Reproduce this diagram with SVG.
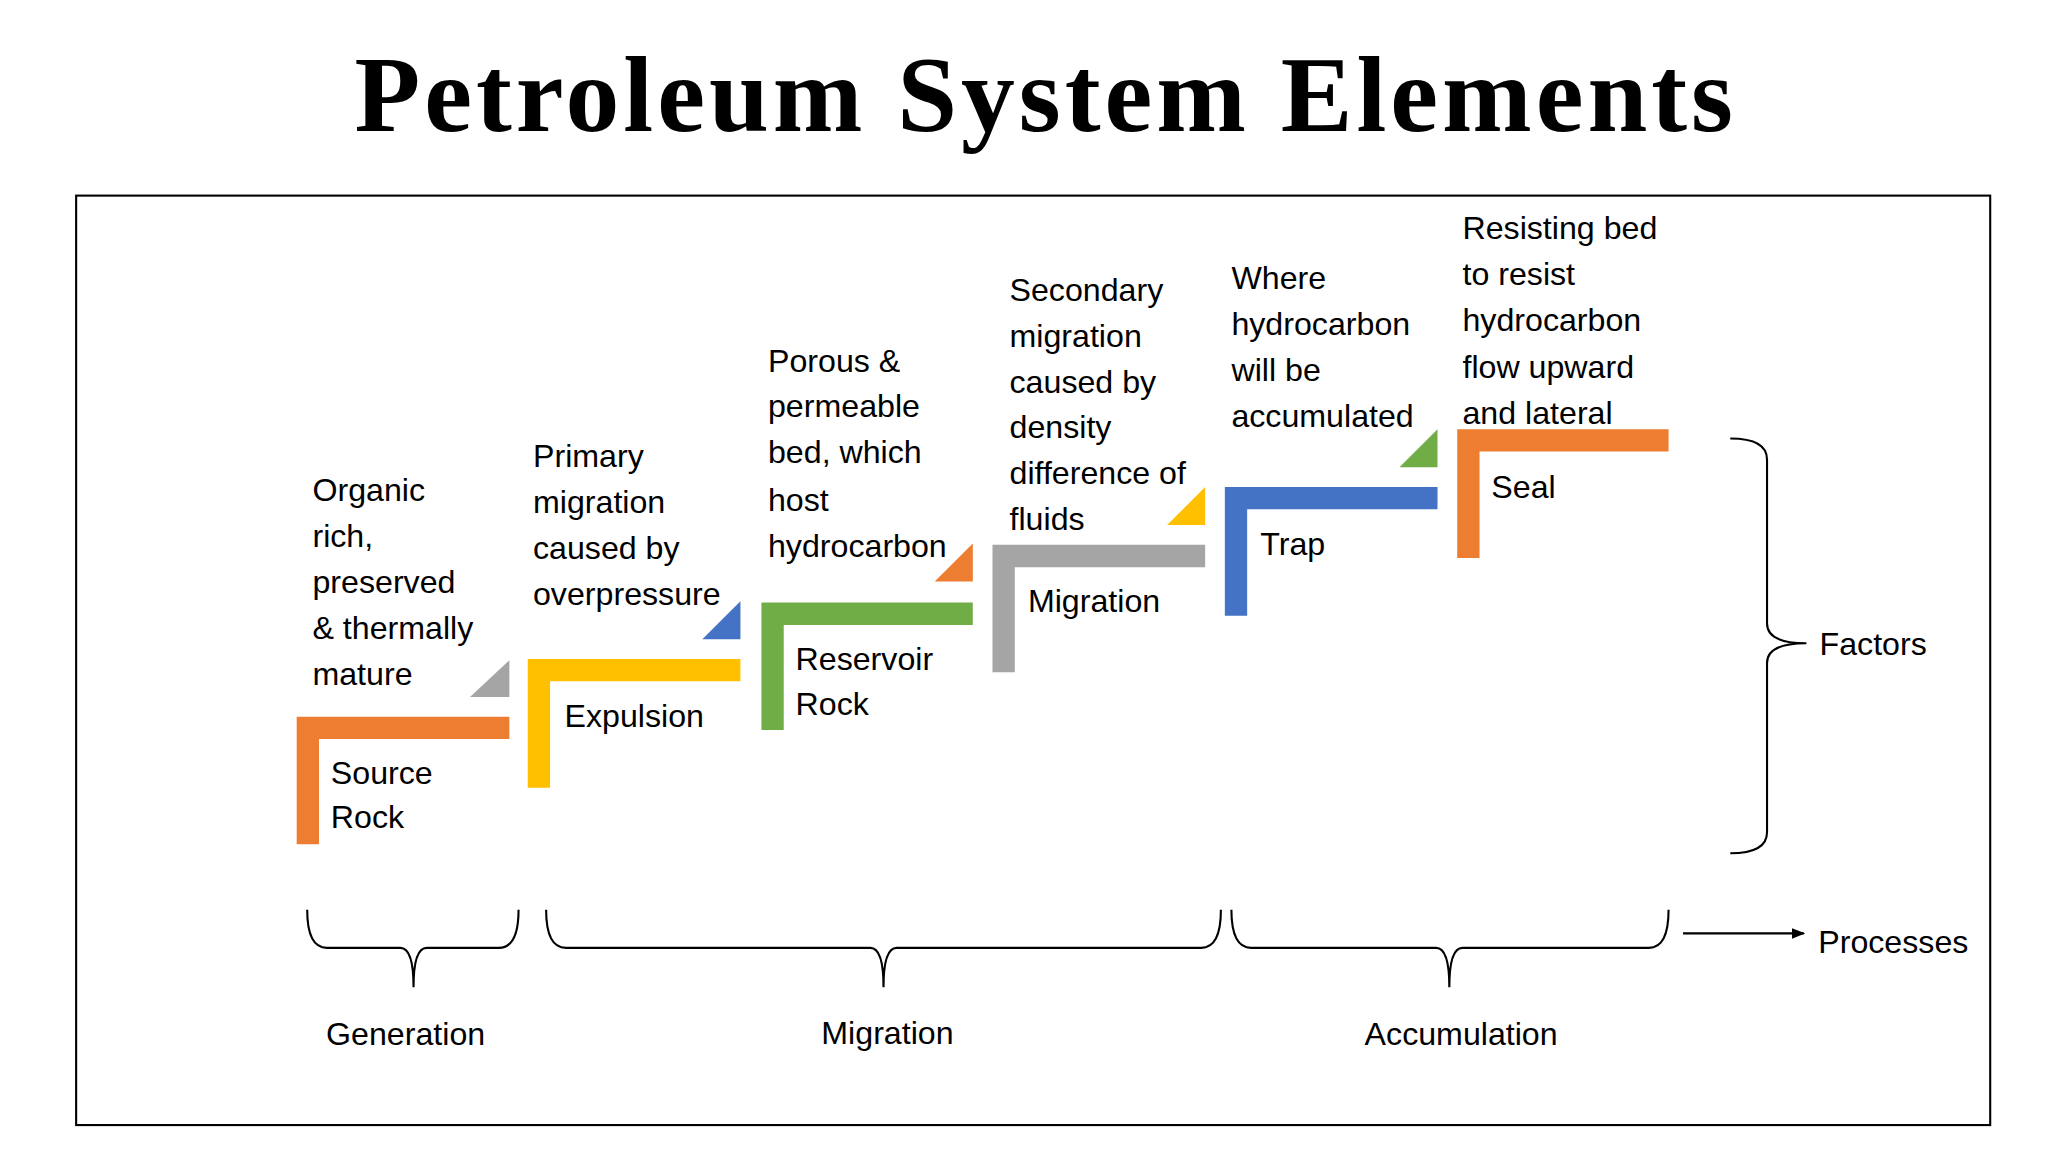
<svg xmlns="http://www.w3.org/2000/svg" width="2048" height="1152" viewBox="0 0 2048 1152">
<style>
.t{font-family:"Liberation Sans",Arial,sans-serif;font-size:24.5px;fill:#000}
.b{fill:none;stroke:#000;stroke-width:1.6}
</style>
<defs><marker id="ah" markerWidth="10" markerHeight="8" refX="9" refY="4" orient="auto" markerUnits="userSpaceOnUse"><path d="M0,0 L10,4 L0,8 Z" fill="#000"/></marker></defs>
<rect width="2048" height="1152" fill="#fff"/>
<g transform="scale(1.3128)">
<text x="795" y="100" text-anchor="middle" font-family="Liberation Serif,serif" font-weight="bold" font-size="82" textLength="1050">Petroleum System Elements</text>
<rect x="58" y="149" width="1458" height="708" fill="none" stroke="#000" stroke-width="1.6"/>
<g id="source">
<path d="M226,546H388V563H243V643H226Z" fill="#ED7D31"/><path d="M358,531L388,503V531Z" fill="#A5A5A5"/>
<text class="t" x="238" y="382">Organic</text><text class="t" x="238" y="417">rich,</text><text class="t" x="238" y="452">preserved</text><text class="t" x="238" y="487">&amp; thermally</text><text class="t" x="238" y="522">mature</text>
<text class="t" x="252" y="597">Source</text><text class="t" x="252" y="631">Rock</text></g>
<g id="expulsion">
<path d="M402,502H564V519H419V600H402Z" fill="#FFC000"/><path d="M535,487L564,458V487Z" fill="#4472C4"/>
<text class="t" x="406" y="356">Primary</text><text class="t" x="406" y="391">migration</text><text class="t" x="406" y="426">caused by</text><text class="t" x="406" y="461">overpressure</text>
<text class="t" x="430" y="554">Expulsion</text></g>
<g id="reservoir">
<path d="M580,459H741V476H597V556H580Z" fill="#70AD47"/><path d="M712,443L741,414V443Z" fill="#ED7D31"/>
<text class="t" x="585" y="283">Porous &amp;</text><text class="t" x="585" y="318">permeable</text><text class="t" x="585" y="353">bed, which</text><text class="t" x="585" y="389">host</text><text class="t" x="585" y="424">hydrocarbon</text>
<text class="t" x="606" y="510">Reservoir</text><text class="t" x="606" y="545">Rock</text></g>
<g id="migration">
<path d="M756,415H918V432H773V512H756Z" fill="#A5A5A5"/><path d="M889,400L918,371V400Z" fill="#FFC000"/>
<text class="t" x="769" y="229">Secondary</text><text class="t" x="769" y="264">migration</text><text class="t" x="769" y="299">caused by</text><text class="t" x="769" y="334">density</text><text class="t" x="769" y="369">difference of</text><text class="t" x="769" y="404">fluids</text>
<text class="t" x="783" y="466">Migration</text></g>
<g id="trap">
<path d="M933,371H1095V388H950V469H933Z" fill="#4472C4"/><path d="M1066,356L1095,327V356Z" fill="#70AD47"/>
<text class="t" x="938" y="220">Where</text><text class="t" x="938" y="255">hydrocarbon</text><text class="t" x="938" y="290">will be</text><text class="t" x="938" y="325">accumulated</text>
<text class="t" x="960" y="423">Trap</text></g>
<g id="seal">
<path d="M1110,327H1271V344H1127V425H1110Z" fill="#ED7D31"/>
<text class="t" x="1114" y="182">Resisting bed</text><text class="t" x="1114" y="217">to resist</text><text class="t" x="1114" y="252">hydrocarbon</text><text class="t" x="1114" y="288">flow upward</text><text class="t" x="1114" y="323">and lateral</text>
<text class="t" x="1136" y="379">Seal</text></g>
<g id="connectors">
<path class="b" d="M1318,334Q1346,334 1346,350V475Q1346,490 1376,490Q1346,490 1346,505V634Q1346,650 1318,650"/>
<path class="b" d="M234,693Q234,722 249,722H305Q315,722 315,752Q315,722 325,722H380Q395,722 395,693"/>
<path class="b" d="M416,693Q416,722 431,722H663Q673,722 673,752Q673,722 683,722H915Q930,722 930,693"/>
<path class="b" d="M938,693Q938,722 953,722H1094Q1104,722 1104,752Q1104,722 1114,722H1256Q1271,722 1271,693"/>
<line x1="1282" y1="711" x2="1374" y2="711" stroke="#000" stroke-width="1.6" marker-end="url(#ah)"/>
</g>
<g id="labels">
<text class="t" x="1386" y="499">Factors</text>
<text class="t" x="1385" y="726">Processes</text>
<text class="t" x="309" y="796" text-anchor="middle">Generation</text>
<text class="t" x="676" y="795" text-anchor="middle">Migration</text>
<text class="t" x="1113" y="796" text-anchor="middle">Accumulation</text>
</g>
</g>
</svg>
